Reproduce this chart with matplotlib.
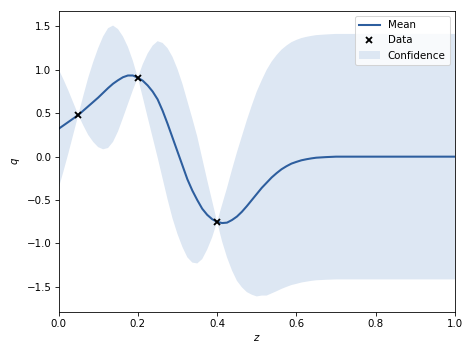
import matplotlib
matplotlib.use("Agg")
import matplotlib.pyplot as plt
import numpy as np

# Observed data points
data_z = [0.05, 0.2, 0.4]
data_q = [0.48, 0.91, -0.75]

grid_z = [0.0, 0.0125, 0.025, 0.0375, 0.05, 0.0625, 0.075, 0.0875, 0.1, 0.1125,
          0.125, 0.1375, 0.15, 0.1625, 0.175, 0.1875, 0.2, 0.2125, 0.225, 0.2375,
          0.25, 0.2625, 0.275, 0.2875, 0.3, 0.3125, 0.325, 0.3375, 0.35, 0.3625,
          0.375, 0.3875, 0.4, 0.4125, 0.425, 0.4375, 0.45, 0.4625, 0.475, 0.4875,
          0.5, 0.5125, 0.525, 0.5375, 0.55, 0.5625, 0.575, 0.5875, 0.6, 0.6125,
          0.625, 0.6375, 0.65, 0.675, 0.7, 0.75, 0.8, 0.85, 0.9, 0.95, 1.0]
# Posterior mean
mean_q = [0.32, 0.36, 0.40, 0.44, 0.48, 0.53, 0.58, 0.63, 0.68, 0.735,
          0.79, 0.84, 0.88, 0.915, 0.935, 0.935, 0.91, 0.875, 0.82, 0.75,
          0.66, 0.53, 0.38, 0.22, 0.06, -0.10, -0.26, -0.39, -0.50, -0.60,
          -0.67, -0.72, -0.75, -0.765, -0.76, -0.73, -0.69, -0.635, -0.57, -0.50,
          -0.43, -0.36, -0.30, -0.24, -0.19, -0.145, -0.11, -0.08, -0.06, -0.042,
          -0.03, -0.02, -0.012, -0.005, 0.0, 0.0, 0.0, 0.0, 0.0, 0.0, 0.0]
# Half-width of the confidence band
half_width = [0.69, 0.53, 0.36, 0.18, 0.0, 0.17, 0.33, 0.46, 0.57, 0.65,
              0.69, 0.67, 0.59, 0.47, 0.33, 0.17, 0.0, 0.19, 0.37, 0.53,
              0.67, 0.78, 0.87, 0.93, 0.95, 0.94, 0.90, 0.83, 0.73, 0.58,
              0.40, 0.21, 0.0, 0.21, 0.40, 0.58, 0.74, 0.87, 0.99, 1.09,
              1.18, 1.24, 1.30, 1.335, 1.36, 1.378, 1.39, 1.399, 1.405, 1.408,
              1.41, 1.411, 1.412, 1.413, 1.414, 1.414, 1.414, 1.414, 1.414, 1.414, 1.414]

z = np.array(grid_z)
m = np.array(mean_q)
w = np.array(half_width)

fig = plt.figure(figsize=(474 / 74, 355 / 74), dpi=74)
ax = fig.add_axes([58.5 / 474, 1 - 311.7 / 355, (455 - 58.5) / 474, (311.7 - 11) / 355])

ax.fill_between(z, m - w, m + w, facecolor="#dde7f3", edgecolor="none", label="Confidence")
ax.plot(z, m, color="#2d5e9e", lw=2, label="Mean")
ax.plot(data_z, data_q, linestyle="none", marker="x", color="black",
        markersize=6, markeredgewidth=1.8, label="Data")

ax.set_xlim(0, 1)
ax.set_ylim(-1.786, 1.678)
ax.set_xlabel("$z$")
ax.set_ylabel("$q$")

h, l = ax.get_legend_handles_labels()
order = [l.index("Mean"), l.index("Data"), l.index("Confidence")]
ax.legend([h[i] for i in order], [l[i] for i in order], loc="upper right")

fig.savefig("out.png", dpi=74)
